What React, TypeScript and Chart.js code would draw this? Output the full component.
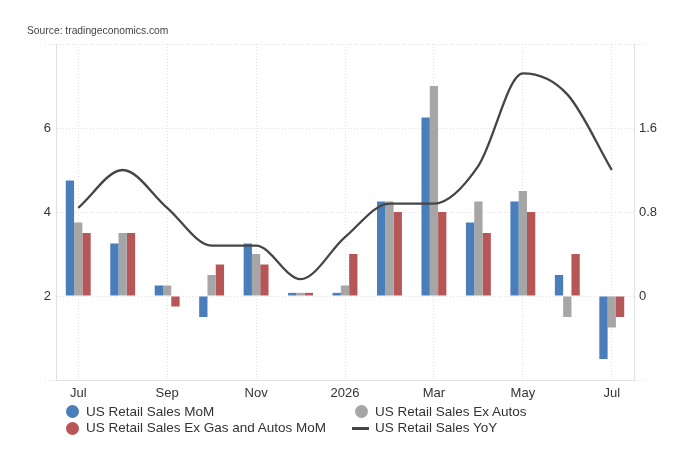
import React, { useEffect, useRef } from 'react';
import { Chart, registerables } from 'chart.js';

Chart.register(...registerables);

const labels = ['Jul', 'Aug', 'Sep', 'Oct', 'Nov', 'Dec', '2026', 'Feb', 'Mar', 'Apr', 'May', 'Jun', 'Jul'];
const retailMoM = [1.1, 0.5, 0.1, -0.2, 0.5, 0.03, 0.03, 0.9, 1.7, 0.7, 0.9, 0.2, -0.6];
const retailExAutos = [0.7, 0.6, 0.1, 0.2, 0.4, 0.03, 0.1, 0.9, 2.0, 0.9, 1.0, -0.2, -0.3];
const retailExGasAutos = [0.6, 0.6, -0.1, 0.3, 0.3, 0.03, 0.4, 0.8, 0.8, 0.6, 0.8, 0.4, -0.2];
const retailYoY = [4.1, 5.0, 4.1, 3.2, 3.2, 2.4, 3.4, 4.2, 4.2, 5.1, 7.3, 6.8, 5.0];
const leftTickLabels = [2, 4, 6];
const rightTickLabels = [0, 0.8, 1.6];

const BLUE = '#4a7ebb';
const GRAY = '#a6a6a6';
const RED = '#b65656';
const LINE = '#454545';
const GRID = '#e2e2e2';
const FONT = "'Liberation Sans', Arial, Helvetica, sans-serif";

export default function App() {
  const ref = useRef<HTMLCanvasElement>(null);

  useEffect(() => {
    if (!ref.current) return;
    const edgeTick = (c: any) => (c.index === 0 || c.index === 4 ? GRID : 'rgba(0,0,0,0)');
    const chart = new Chart(ref.current, {
      type: 'bar',
      data: {
        labels,
        datasets: [
          { type: 'bar', label: 'US Retail Sales MoM', data: retailMoM, backgroundColor: BLUE, yAxisID: 'yR', order: 1 },
          { type: 'bar', label: 'US Retail Sales Ex Autos', data: retailExAutos, backgroundColor: GRAY, yAxisID: 'yR', order: 1 },
          { type: 'bar', label: 'US Retail Sales Ex Gas and Autos MoM', data: retailExGasAutos, backgroundColor: RED, yAxisID: 'yR', order: 1 },
          {
            type: 'line',
            label: 'US Retail Sales YoY',
            data: retailYoY,
            borderColor: LINE,
            borderWidth: 2.3,
            pointRadius: 0,
            cubicInterpolationMode: 'monotone',
            yAxisID: 'yL',
            order: 0,
          } as any,
        ],
      },
      options: {
        responsive: false,
        animation: false,
        events: [],
        layout: { padding: { top: 44, left: 0, right: 0, bottom: 0 } },
        font: { family: FONT },
        plugins: { legend: { display: false }, tooltip: { enabled: false } },
        datasets: { bar: { categoryPercentage: 0.56, barPercentage: 1 } },
        scales: {
          x: {
            type: 'category',
            offset: true,
            grid: {
              offset: false,
              drawTicks: false,
              color: (c: any) => (c.index % 2 === 0 ? GRID : 'rgba(0,0,0,0)'),
            },
            border: { display: true, color: GRID, dash: [1, 2] },
            ticks: {
              autoSkip: false,
              maxRotation: 0,
              padding: 6,
              color: '#333',
              font: { size: 13, family: FONT },
              callback: (_v: any, i: number) => (i % 2 === 0 ? labels[i] : ''),
            },
            afterFit: (s: any) => {
              s.height = 85;
            },
          },
          yL: {
            type: 'linear',
            position: 'left',
            min: 0,
            max: 8,
            grid: { color: GRID, tickLength: 11, tickColor: edgeTick, tickBorderDash: [1, 2] },
            border: { display: true, color: GRID, dash: [1, 2] },
            ticks: {
              stepSize: 2,
              padding: -6,
              color: '#333',
              font: { size: 13, family: FONT },
              callback: (v: any) => {
                const r = Math.round(Number(v) * 10) / 10;
                return leftTickLabels.includes(r) ? String(r) : '';
              },
            },
            afterFit: (s: any) => {
              s.width = 56;
            },
          },
          yR: {
            type: 'linear',
            position: 'right',
            min: -0.8,
            max: 2.4,
            grid: { drawOnChartArea: false, tickLength: 11, tickColor: edgeTick, tickBorderDash: [1, 2] },
            border: { display: true, color: GRID },
            ticks: {
              stepSize: 0.8,
              padding: -6,
              color: '#333',
              font: { size: 13, family: FONT },
              callback: (v: any) => {
                const r = Math.round(Number(v) * 10) / 10;
                return rightTickLabels.includes(r) ? String(r) : '';
              },
            },
            afterFit: (s: any) => {
              s.width = 46;
            },
          },
        },
      } as any,
    });
    return () => chart.destroy();
  }, []);

  const textStyle: React.CSSProperties = {
    position: 'absolute',
    fontSize: '13.5px',
    lineHeight: '16px',
    color: '#333',
    whiteSpace: 'nowrap',
    fontFamily: FONT,
  };
  const dot = (left: number, top: number, color: string): React.CSSProperties => ({
    position: 'absolute',
    left,
    top,
    width: 13,
    height: 13,
    borderRadius: '50%',
    background: color,
  });

  return (
    <div style={{ position: 'fixed', left: 0, top: 0, width: 680, height: 465, background: '#fff', fontFamily: FONT }}>
      <canvas ref={ref} width={680} height={465} style={{ position: 'absolute', left: 0, top: 0, width: 680, height: 465 }} />
      <div style={{ position: 'absolute', left: 27, top: 24.5, fontSize: '10.3px', lineHeight: '12px', color: '#444', whiteSpace: 'nowrap' }}>
        Source: tradingeconomics.com
      </div>
      <div style={dot(66, 405, BLUE)} />
      <div style={{ ...textStyle, left: 86, top: 403.5 }}>US Retail Sales MoM</div>
      <div style={dot(66, 422, RED)} />
      <div style={{ ...textStyle, left: 86, top: 420.3 }}>US Retail Sales Ex Gas and Autos MoM</div>
      <div style={dot(355, 405, GRAY)} />
      <div style={{ ...textStyle, left: 375, top: 403.5 }}>US Retail Sales Ex Autos</div>
      <div style={{ position: 'absolute', left: 352, top: 426.5, width: 17, height: 3, background: LINE }} />
      <div style={{ ...textStyle, left: 375, top: 420.3 }}>US Retail Sales YoY</div>
    </div>
  );
}
